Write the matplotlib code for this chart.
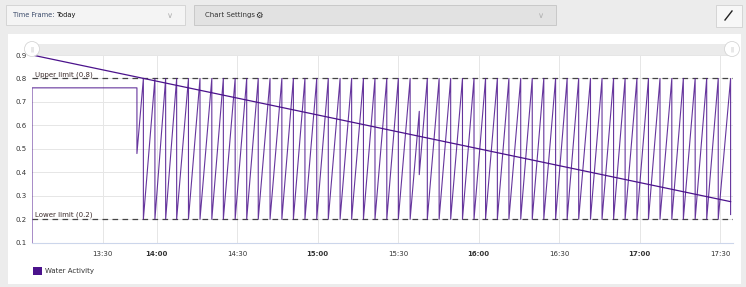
import numpy as np
import matplotlib
matplotlib.use("Agg")
import matplotlib.pyplot as plt
from matplotlib.patches import Rectangle, Ellipse, Patch
import matplotlib.transforms as mtransforms

# DATA
# x values are minutes after 12:00 on the (ordinal, compressed) time axis
lead_times = [73.6, 73.6, 112.7, 112.7]
lead_vals = [0.1, 0.76, 0.76, 0.48]

peak_times = [115.1, 119.4, 123.4, 127.5, 131.9, 136.2, 140.6, 144.9, 149.3,
              153.6, 157.9, 162.3, 166.7, 171.0, 175.3, 179.7, 184.0, 188.4,
              192.7, 197.1, 201.4, 205.8, 210.1, 214.5, 217.9, 220.9, 225.3,
              229.6, 234.0, 238.3, 242.6, 247.0, 251.3, 255.7, 260.0, 264.3,
              268.7, 273.0, 277.3, 281.7, 286.0, 290.3, 294.6, 299.0, 303.3,
              307.6, 312.0, 316.3, 320.7, 325.0, 329.3, 333.9]
peak_vals = [0.8] * 24 + [0.66] + [0.8] * 27
trough_vals = [0.2] * 24 + [0.39] + [0.2] * 26 + [0.22]

trend_times = [73.6, 333.9]
trend_vals = [0.9, 0.275]

upper_limit = 0.8
lower_limit = 0.2

tick_pos = [100, 120, 150, 180, 210, 240, 270, 300, 330]
tick_labels = ["13:30", "14:00", "14:30", "15:00", "15:30",
               "16:00", "16:30", "17:00", "17:30"]
y_ticks = [0.1, 0.2, 0.3, 0.4, 0.5, 0.6, 0.7, 0.8, 0.9]

PURPLE = "#4b128c"

# build the series: each cycle rises to a peak and drops straight down
wa_x = list(lead_times)
wa_y = list(lead_vals)
for t, p, q in zip(peak_times, peak_vals, trough_vals):
    wa_x += [t, t]
    wa_y += [p, q]

W, H = 746, 287
fig = plt.figure(figsize=(W / 100, H / 100), dpi=100, facecolor="#ececec")


def fx(px):
    return px / W


def fy(py):
    return 1 - py / H


def box(x, y, w, h, fc, ec, z=-5):
    r = Rectangle((fx(x), fy(y + h)), w / W, h / H, transform=fig.transFigure,
                  facecolor=fc, edgecolor=ec, lw=0.6, zorder=z)
    fig.add_artist(r)


# header controls
box(6, 5, 179, 20, "#f4f4f4", "#d0d0d0")
box(194, 5, 362, 20, "#e2e2e2", "#c4c4c4")
box(716, 5, 26, 22, "#f7f7f7", "#d0d0d0")
fig.text(fx(13), fy(15), "Time Frame:", fontsize=4.8, color="#3a4a6a", va="center")
fig.text(fx(57), fy(15), "Today", fontsize=4.8, color="#111111", va="center")
fig.text(fx(170), fy(15), "\u2228", fontsize=6, color="#b0b0b0", va="center", ha="center")
fig.text(fx(205), fy(15), "Chart Settings", fontsize=5, color="#333333", va="center")
fig.text(fx(259), fy(15), "\u2699", fontsize=6, color="#222222", va="center", ha="center")
fig.text(fx(541), fy(15), "\u2228", fontsize=6, color="#b0b0b0", va="center", ha="center")
fig.add_artist(plt.Line2D([fx(725), fx(732)], [fy(20), fy(11)], color="#222222", lw=1,
                          transform=fig.transFigure))

# white chart panel and navigator band
box(8, 34, 733, 250, "white", "none", z=-4)
box(32, 44, 701, 11, "#ebebeb", "none", z=-3)

ax = fig.add_axes([fx(32), fy(242.7), fx(701), (242.7 - 55) / H])
ax.set_facecolor("none")
ax.set_zorder(1)

ax.plot(wa_x, wa_y, color=PURPLE, lw=0.8, alpha=0.85, zorder=3)
ax.plot(trend_times, trend_vals, color=PURPLE, lw=0.9, zorder=3)

ax.axhline(upper_limit, color="#444444", lw=0.9, ls=(0, (4.5, 3.5)), zorder=2)
ax.axhline(lower_limit, color="#444444", lw=0.9, ls=(0, (4.5, 3.5)), zorder=2)
blend = mtransforms.blended_transform_factory(ax.transAxes, ax.transData)
ax.text(0.004, upper_limit + 0.004, "Upper limit (0.8)", transform=blend, fontsize=5,
        color="#3a2a2a", va="bottom")
ax.text(0.004, lower_limit + 0.004, "Lower limit (0.2)", transform=blend, fontsize=5,
        color="#3a2a2a", va="bottom")

ax.set_xlim(73.6, 334.8)
ax.set_ylim(0.1, 0.9)
ax.set_xticks(tick_pos)
ax.set_xticklabels(tick_labels)
for lbl in ax.get_xticklabels():
    if lbl.get_text().endswith(":00"):
        lbl.set_fontweight("bold")
ax.set_yticks(y_ticks)
ax.set_yticklabels(["%.1f" % v for v in y_ticks])
ax.tick_params(axis="both", labelsize=5, colors="#333333", length=0)
ax.tick_params(axis="x", pad=6)
ax.tick_params(axis="y", pad=4)
ax.grid(True, color="#e6e6e6", lw=0.7, zorder=0)
ax.set_axisbelow(True)
for side in ["top", "right", "left"]:
    ax.spines[side].set_visible(False)
ax.spines["bottom"].set_color("#ccd6eb")
ax.spines["bottom"].set_linewidth(0.8)

# navigator handles on top of everything
for hx in [32, 732]:
    e = Ellipse((fx(hx), fy(49)), 15 / W, 15 / H, transform=fig.transFigure,
                facecolor="white", edgecolor="#d6d6d6", lw=0.6, zorder=10)
    fig.add_artist(e)
    fig.text(fx(hx), fy(49), "||", fontsize=4, color="#aaaaaa", ha="center", va="center",
             zorder=11)

fig.legend(handles=[Patch(facecolor=PURPLE, edgecolor="none")], labels=["Water Activity"],
           loc="upper left", bbox_to_anchor=(fx(27), fy(261)), frameon=False, fontsize=5,
           handlelength=1.3, handleheight=1.3, handletextpad=0.4, labelcolor="#333333")

fig.savefig("out.png", dpi=100, facecolor=fig.get_facecolor())
